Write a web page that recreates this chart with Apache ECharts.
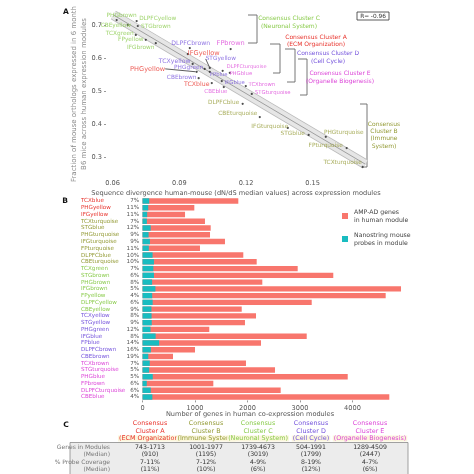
<!DOCTYPE html>
<html>
<head>
<meta charset="utf-8">
<script src="https://cdn.jsdelivr.net/npm/echarts@6/dist/echarts.min.js"></script>
<style>
html, body { margin: 0; padding: 0; background: #fff; }
#main { width: 474px; height: 474px; }
</style>
</head>
<body>
<div id="main"></div>
<script>
// modules in panel B order (top to bottom)
var modules = ['TCXblue', 'PHGyellow', 'IFGyellow',
    'TCXturquoise', 'STGblue', 'PHGturquoise', 'IFGturquoise', 'FPturquoise', 'DLPFCblue', 'CBEturquoise',
    'TCXgreen', 'STGbrown', 'PHGbrown', 'IFGbrown', 'FPyellow', 'DLPFCyellow', 'CBEyellow',
    'TCXyellow', 'STGyellow', 'PHGgreen', 'IFGblue', 'FPblue', 'DLPFCbrown', 'CBEbrown',
    'TCXbrown', 'STGturquoise', 'PHGblue', 'FPbrown', 'DLPFCturquoise', 'CBEblue'];
// consensus cluster: 0=A 1=B 2=C 3=D 4=E
var moduleCluster = [0, 0, 0, 1, 1, 1, 1, 1, 1, 1, 2, 2, 2, 2, 2, 2, 2, 3, 3, 3, 3, 3, 3, 3, 4, 4, 4, 4, 4, 4];
// panel A
var dnds = [0.1046, 0.0978, 0.0938, 0.1725, 0.1482, 0.1559, 0.1388, 0.1653, 0.1185, 0.1262,
    0.0704, 0.0713, 0.0618, 0.0794, 0.0749, 0.0708, 0.0668,
    0.0960, 0.1037, 0.1014, 0.1091, 0.1037, 0.0947, 0.0987,
    0.1199, 0.1226, 0.1127, 0.1131, 0.1095, 0.1100];
var fractionExpressed = [0.524, 0.558, 0.612, 0.270, 0.367, 0.361, 0.388, 0.327, 0.461, 0.421,
    0.670, 0.697, 0.715, 0.645, 0.655, 0.712, 0.700,
    0.582, 0.570, 0.567, 0.530, 0.558, 0.630, 0.539,
    0.515, 0.491, 0.555, 0.627, 0.561, 0.512];
var rValue = -0.96;
// panel B
var ampadGenes = [1825, 987, 810, 1190, 1299, 1286, 1571, 1095, 1920, 2175,
    2956, 3634, 2282, 4924, 4632, 3223, 1890,
    2162, 1952, 1272, 3128, 2257, 1000, 581,
    1971, 2524, 3909, 1349, 2632, 4701];
var nanostringProbes = [128, 109, 89, 83, 156, 116, 141, 120, 192, 218,
    207, 218, 183, 246, 185, 193, 170,
    173, 176, 153, 250, 316, 160, 110,
    138, 126, 195, 81, 158, 188];
var probePct = [7, 11, 11, 7, 12, 9, 9, 11, 10, 10,
    7, 6, 8, 5, 4, 6, 9,
    8, 9, 12, 8, 14, 16, 19,
    7, 5, 5, 6, 6, 4];
var scatterTicksX = [0.06, 0.09, 0.12, 0.15];
var scatterTicksY = [0.3, 0.4, 0.5, 0.6, 0.7];
var barTicks = [0, 1000, 2000, 3000, 4000];
// panel C
var clusterTitles = [
    ['Consensus', 'Cluster A', '(ECM Organization)'],
    ['Consensus', 'Cluster B', '(Immune System)'],
    ['Consensus', 'Cluster C', '(Neuronal System)'],
    ['Consensus', 'Cluster D', '(Cell Cycle)'],
    ['Consensus', 'Cluster E', '(Organelle Biogenesis)']
];
var tableRowLabels = ['Genes in Modules', '(Median)', '% Probe Coverage', '(Median)'];
var geneRange = ['743-1713', '1001-1977', '1739-4673', '504-1991', '1289-4509'];
var geneMedian = ['(910)', '(1195)', '(3019)', '(1799)', '(2447)'];
var coverRange = ['7-11%', '7-12%', '4-9%', '8-19%', '4-7%'];
var coverMedian = ['(11%)', '(10%)', '(6%)', '(12%)', '(6%)'];

var clusterColors = ['#e8332c', '#939a35', '#8acb4c', '#7453dc', '#dc46d8'];
var FONT = 'DejaVu Sans';

// label placement for panel A (offset from point, px)
var labelOffsets = [[-15, 1], [-49, -3], [16, -1], [-20, -4], [-16, -1], [18, -4], [-18, -1], [-21, -3], [-19, -1], [-22, -4],
    [-16, -1], [18, 1], [5, -5], [-15, 4], [-15, 0], [21, -3], [-12, 0],
    [-18, -3], [11, -9], [-16, -1], [13, 2], [9, 3], [1, -5], [-17, -1],
    [16, -1], [21, -1], [11, 1], [0, -6], [24, -4], [-8, 5]];
var leaderLines = ['PHGyellow', 'STGyellow'];
var labelSize = {
    PHGyellow: 6.6, IFGyellow: 6.6, FPbrown: 6.6, DLPFCbrown: 6.2, TCXyellow: 6.2, TCXblue: 6.2,
    DLPFCturquoise: 5, PHGblue: 5.3, IFGblue: 5.3, FPblue: 5.3, TCXbrown: 5.3, STGturquoise: 5.3, CBEblue: 5.5
};

// least squares fit for the trend band
function fitLine(xs, ys) {
    var n = xs.length, sx = 0, sy = 0, sxx = 0, sxy = 0;
    for (var i = 0; i < n; i++) {
        sx += xs[i]; sy += ys[i]; sxx += xs[i] * xs[i]; sxy += xs[i] * ys[i];
    }
    var b = (n * sxy - sx * sy) / (n * sxx - sx * sx);
    return { a: (sy - b * sx) / n, b: b };
}
var fit = fitLine(dnds, fractionExpressed);
var xLo = Math.min.apply(null, dnds) - 0.0015;
var xHi = Math.max.apply(null, dnds) + 0.0012;
var trend = [[xLo, fit.a + fit.b * xLo], [xHi, fit.a + fit.b * xHi]];

var scatterData = modules.map(function (m, i) {
    var col = clusterColors[moduleCluster[i]];
    var lead = leaderLines.indexOf(m) >= 0;
    return {
        name: m,
        value: [dnds[i], fractionExpressed[i]],
        label: { color: col, fontSize: labelSize[m] || 5.8 },
        labelLine: { show: lead }
    };
});

var rich = { p: { width: 14, align: 'right', color: '#555', fontSize: 5.6, fontFamily: FONT } };
clusterColors.forEach(function (c, k) {
    rich['g' + k] = { width: 44, align: 'left', color: c, fontSize: 5.6, fontFamily: FONT };
});

function txt(x, y, text, color, size, align, extra) {
    var o = {
        type: 'text', x: x, y: y, silent: true,
        style: {
            text: text, fill: color, fontSize: size, fontFamily: FONT,
            align: align || 'center', verticalAlign: 'middle'
        }
    };
    if (extra) { for (var k in extra) { o.style[k] = extra[k]; } }
    return o;
}
function bracket(pts) {
    return { type: 'polyline', silent: true, shape: { points: pts }, style: { stroke: '#666', lineWidth: 0.9, fill: null } };
}

var graphics = [
    txt(66, 12, 'A', '#111', 7.5, 'center', { fontWeight: 'bold' }),
    txt(65, 201, 'B', '#111', 7.5, 'center', { fontWeight: 'bold' }),
    txt(66, 425, 'C', '#111', 7.5, 'center', { fontWeight: 'bold' }),
    {
        type: 'text', x: 79, y: 94, rotation: Math.PI / 2, silent: true,
        style: {
            text: 'Fraction of mouse orthologs expressed in 6 month\nB6 mice across human expression modules',
            fill: '#888', fontSize: 7, fontFamily: FONT, align: 'center', verticalAlign: 'middle', lineHeight: 10
        }
    },
    { type: 'rect', silent: true, shape: { x: 357, y: 12, width: 32, height: 8 }, style: { fill: '#fff', stroke: '#333', lineWidth: 0.8 } },
    txt(373, 16.2, 'R= ' + rValue.toFixed(2), '#333', 5.8),
    bracket([[248, 15], [257, 15], [257, 43], [248, 43]]),
    bracket([[270, 44], [280, 44], [280, 73], [273, 73]]),
    bracket([[285, 49], [295, 49], [295, 82], [287, 82]]),
    bracket([[298, 59], [307, 59], [307, 95], [300, 95]]),
    bracket([[360, 104], [367, 104], [367, 167], [362, 167]]),
    txt(289, 22.5, 'Consensus Cluster C\n(Neuronal System)', clusterColors[2], 6, 'center', { lineHeight: 7.5 }),
    txt(316, 41, 'Consensus Cluster A\n(ECM Organization)', clusterColors[0], 6, 'center', { lineHeight: 7.5 }),
    txt(328, 57.5, 'Consensus Cluster D\n(Cell Cycle)', clusterColors[3], 6, 'center', { lineHeight: 7.5 }),
    txt(340, 77.5, 'Consensus Cluster E\n(Organelle Biogenesis)', clusterColors[4], 6, 'center', { lineHeight: 7.5 }),
    txt(384, 135, 'Consensus\nCluster B\n(Immune\nSystem)', clusterColors[1], 6, 'center', { lineHeight: 7.3 }),
    txt(250, 414.5, 'Number of genes in human co-expression modules', '#555', 6.6),
    { type: 'rect', silent: true, shape: { x: 70, y: 442.5, width: 338, height: 40 }, style: { fill: '#ececec', stroke: '#8a8a8a', lineWidth: 0.8 } }
];

var colX = [150, 206, 258, 311, 370];
clusterTitles.forEach(function (lines, k) {
    graphics.push(txt(colX[k], 423, lines[0], clusterColors[k], 6.4));
    graphics.push(txt(colX[k], 431, lines[1], clusterColors[k], 6.4));
    graphics.push(txt(colX[k], 438.5, lines[2], clusterColors[k], 6.4, 'center', { backgroundColor: '#fbf6dc', padding: [0, 1] }));
});
var rowY = [447.5, 454.5, 462, 469];
tableRowLabels.forEach(function (l, r) {
    graphics.push(txt(110, rowY[r], l, '#777', 6, 'right'));
});
[geneRange, geneMedian, coverRange, coverMedian].forEach(function (row, r) {
    row.forEach(function (v, k) {
        graphics.push(txt(colX[k], rowY[r], v, '#333', 6.2));
    });
});

var chart = echarts.init(document.getElementById('main'), null, { renderer: 'canvas' });
chart.setOption({
    animation: false,
    backgroundColor: '#fff',
    textStyle: { fontFamily: FONT },
    grid: [
        { left: 106, top: 11.8, width: 260, height: 161.7 },
        { left: 142.5, top: 197.6, width: 262.5, height: 202.8 }
    ],
    legend: {
        data: ['AMP-AD genes\nin human module', 'Nanostring mouse\nprobes in module'],
        orient: 'vertical', left: 337, top: 203,
        icon: 'rect', itemWidth: 6, itemHeight: 6, itemGap: 7,
        selectedMode: false,
        textStyle: { fontSize: 6.2, lineHeight: 8, color: '#444', fontFamily: FONT, padding: [0, 0, 0, 1] }
    },
    xAxis: [
        {
            gridIndex: 0, type: 'value', min: 0.057, max: 0.174,
            splitLine: { show: false }, axisLine: { show: false }, axisTick: { show: false },
            axisLabel: {
                customValues: scatterTicksX, margin: 6, fontSize: 6.6, color: '#555',
                formatter: function (v) { return v.toFixed(2); }
            },
            name: 'Sequence divergence human-mouse (dN/dS median values) across expression modules',
            nameLocation: 'middle', nameGap: 16,
            nameTextStyle: { fontSize: 6.6, color: '#555' }
        },
        {
            gridIndex: 1, type: 'value', min: 0, max: 5000,
            splitLine: { show: false }, axisLine: { show: false },
            axisTick: { show: true, customValues: barTicks, length: 2, lineStyle: { color: '#999' } },
            axisLabel: {
                customValues: barTicks, margin: 4, fontSize: 6.6, color: '#555',
                formatter: function (v) { return String(v); }
            }
        }
    ],
    yAxis: [
        {
            gridIndex: 0, type: 'value', min: 0.25, max: 0.74,
            splitLine: { show: false }, axisLine: { show: false },
            axisTick: { show: true, customValues: scatterTicksY, length: 2, lineStyle: { color: '#999' } },
            axisLabel: {
                customValues: scatterTicksY, margin: 4, fontSize: 6.6, color: '#555',
                formatter: function (v) { return v.toFixed(1); }
            }
        },
        {
            gridIndex: 1, type: 'category', data: modules, inverse: true,
            axisLine: { show: false }, axisTick: { show: false }, splitLine: { show: false },
            axisLabel: {
                interval: 0, align: 'left', margin: 61.5, rich: rich,
                formatter: function (v, i) {
                    return '{g' + moduleCluster[i] + '|' + v + '}{p|' + probePct[i] + '%}';
                }
            }
        }
    ],
    series: [
        {
            type: 'line', xAxisIndex: 0, yAxisIndex: 0, data: trend, symbol: 'none', silent: true, z: 1,
            lineStyle: { color: '#bcbcbc', width: 10, cap: 'butt' }
        },
        {
            type: 'line', xAxisIndex: 0, yAxisIndex: 0, data: trend, symbol: 'none', silent: true, z: 1,
            lineStyle: { color: '#e6e6e6', width: 8.4, cap: 'butt' }
        },
        {
            type: 'line', xAxisIndex: 0, yAxisIndex: 0, data: trend, symbol: 'none', silent: true, z: 1,
            lineStyle: { color: '#a0a0a0', width: 1 }
        },
        {
            type: 'scatter', xAxisIndex: 0, yAxisIndex: 0, data: scatterData, z: 3,
            symbolSize: 2.2, itemStyle: { color: '#222' },
            label: { show: true, position: 'inside', formatter: '{b}', fontFamily: FONT },
            labelLine: { show: true, lineStyle: { color: '#333', width: 0.8 } },
            labelLayout: function (p) {
                var o = labelOffsets[p.dataIndex];
                return { dx: o[0], dy: o[1], hideOverlap: false };
            }
        },
        {
            name: 'AMP-AD genes\nin human module', type: 'bar', xAxisIndex: 1, yAxisIndex: 1,
            data: ampadGenes, barWidth: 5.4, itemStyle: { color: '#F8766D' }
        },
        {
            name: 'Nanostring mouse\nprobes in module', type: 'bar', xAxisIndex: 1, yAxisIndex: 1,
            data: nanostringProbes, barWidth: 5.4, barGap: '-100%', itemStyle: { color: '#19BCC0' }
        }
    ],
    graphic: graphics
});
</script>
</body>
</html>
